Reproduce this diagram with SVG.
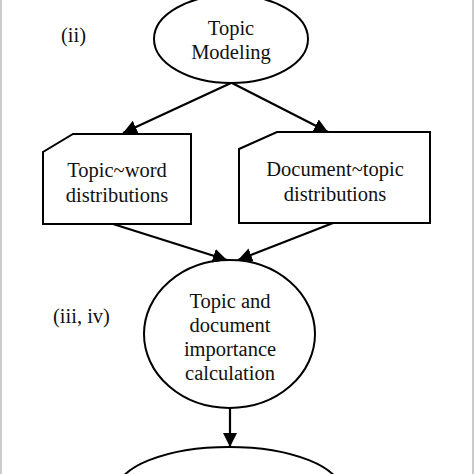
<svg xmlns="http://www.w3.org/2000/svg" width="474" height="474" viewBox="0 0 474 474">
<style>
.shape{fill:#fff;stroke:#000;stroke-width:2}
.edge{fill:none;stroke:#000;stroke-width:2.2}
text{font-family:"Liberation Serif","Times New Roman",serif;font-size:20.5px;fill:#111;text-anchor:middle}
.lab{text-anchor:start}
</style>
<defs>
<marker id="ah" markerUnits="userSpaceOnUse" markerWidth="15" markerHeight="14" refX="14" refY="7" orient="auto" viewBox="0 0 15 14">
<path d="M0,0 L14,7 L0,14 z" fill="#000"/>
</marker>
</defs>
<rect x="0" y="0" width="474" height="474" fill="#fff"/>
<rect x="0" y="0" width="2" height="474" fill="#cbcbcb"/>
<rect x="472" y="0" width="2" height="474" fill="#cbcbcb"/>
<g id="topic-modeling">
<ellipse class="shape" cx="231" cy="39" rx="77" ry="44"/>
<text x="231" y="35">Topic</text>
<text x="231" y="59">Modeling</text>
</g>
<g id="topic-word">
<path class="shape" d="M73,134 L191,134 L191,224 L43,224 L43,152 Z"/>
<text x="117" y="177">Topic~word</text>
<text x="117" y="202">distributions</text>
</g>
<g id="document-topic">
<path class="shape" d="M277,132 L430,132 L430,223 L239,223 L239,149 Z"/>
<text x="335" y="176">Document~topic</text>
<text x="335" y="201">distributions</text>
</g>
<g id="importance">
<ellipse class="shape" cx="229.5" cy="334" rx="85.5" ry="74"/>
<text x="230" y="308">Topic and</text>
<text x="230" y="332">document</text>
<text x="230" y="356">importance</text>
<text x="230" y="380">calculation</text>
</g>
<g id="next-step">
<ellipse class="shape" cx="229" cy="492" rx="113" ry="45"/>
</g>
<g id="labels">
<text class="lab" x="61" y="42">(ii)</text>
<text class="lab" x="53" y="323">(iii, iv)</text>
</g>
<g id="connectors">
<line class="edge" x1="231" y1="83" x2="123" y2="133" marker-end="url(#ah)"/>
<line class="edge" x1="232" y1="83" x2="328" y2="132" marker-end="url(#ah)"/>
<line class="edge" x1="113" y1="224" x2="227" y2="260" marker-end="url(#ah)"/>
<line class="edge" x1="333" y1="223" x2="238" y2="260" marker-end="url(#ah)"/>
<line class="edge" x1="230" y1="408" x2="230" y2="447" marker-end="url(#ah)"/>
</g>
</svg>
